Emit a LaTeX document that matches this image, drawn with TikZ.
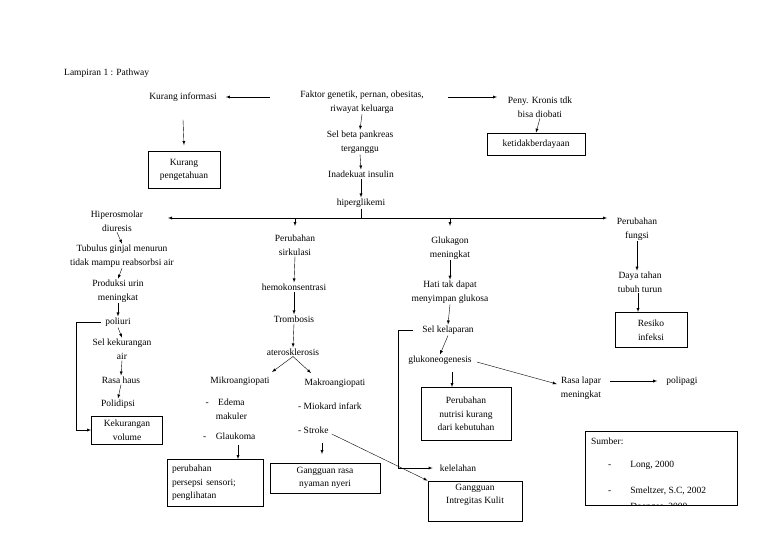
\documentclass[tikz,border=0pt]{standalone}
\usepackage{fontspec}
\setmainfont{Liberation Serif}
\usetikzlibrary{calc}
\tikzset{
  txt/.style={align=center,inner sep=1pt,font=\fontsize{9.5}{13.5}\selectfont},
  box/.style={txt,draw,thick,minimum width=#1},
  arr/.style={->,>=latex,thin}
}
\begin{document}
\begin{tikzpicture}[x=1pt,y=-1pt]
\useasboundingbox (0,0) rectangle (768,543);

% Title
\node[txt,anchor=west] (title) at (63,73) {Lampiran 1 : Pathway};

% Top row
\node[txt] (faktor) at (362,102) {Faktor genetik, pernan, obesitas,\\ riwayat keluarga};
\node[txt] (info) at (183,97) {Kurang informasi};
\node[txt] (kronis) at (540,107) {Peny. Kronis tdk\\ bisa diobati};
\node[box=98pt,minimum height=22pt] (daya) at (536,144) {ketidakberdayaan};
\node[box=72pt,minimum height=37pt] (tahu) at (184,170) {Kurang\\ pengetahuan};
\coordinate (fl) at (270,97);
\coordinate (fr) at (448,97);
\draw[arr] (fl) -- ($(info.east)+(8,0)$);
\draw[arr] (fr) -- (497,97);
\draw[arr] (kronis.south) -- (daya.north);
\draw[arr] ($(info.south)+(0,17)$) -- ($(tahu.north)+(0,-6)$);

% Centre column
\node[txt] (beta) at (360,142) {Sel beta pankreas\\ terganggu};
\node[txt] (insulin) at (361,174) {Inadekuat insulin};
\node[txt] (hiper) at (361,203) {hiperglikemi};
\draw[arr] (faktor.south) -- (beta.north);
\draw[arr] (beta.south) -- (insulin.north);
\draw[arr] (insulin.south) -- (hiper.north);
\coordinate (bl) at (168,218);
\coordinate (br) at (607,218);
\coordinate (bm) at (361,218);
\draw (hiper.south) -- (bm);
\draw[arr] (bm) -- (bl);
\draw[arr] (bm) -- (br);

% Left branch
\node[txt] (osmo) at (117,221) {Hiperosmolar\\ diuresis};
\node[txt] (tubulus) at (122,256) {Tubulus ginjal menurun\\ tidak mampu reabsorbsi air};
\node[txt] (urin) at (118,291) {Produksi urin\\ meningkat};
\node[txt] (poliuri) at (118,322) {poliuri};
\node[txt] (sel) at (122,349) {Sel kekurangan\\ air};
\node[txt] (haus) at (121,380) {Rasa haus};
\node[txt] (dipsi) at (118,404) {Polidipsi};
\node[box=71pt,minimum height=28pt] (volume) at (127,430) {Kekurangan\\ volume};
\draw[arr] (osmo.south) -- (tubulus.north);
\draw[arr] (tubulus.south) -- (urin.north);
\draw[arr] (urin.south) -- (poliuri.north);
\draw[arr] (poliuri.south) -- (sel.north);
\draw[arr] (sel.south) -- (haus.north);
\draw[arr] (haus.south) -- (dipsi.north);
\draw[arr] ($(poliuri.west)+(-3,0)$) -| (76,430) -- (volume.west);

% Circulation branch
\node[txt] (sirk) at (295,245) {Perubahan\\ sirkulasi};
\node[txt] (hemo) at (294,287) {hemokonsentrasi};
\node[txt] (trombo) at (294,319) {Trombosis};
\node[txt] (atero) at (293,352) {aterosklerosis};
\node[txt] (mikro) at (240,381) {Mikroangiopati};
\node[txt] (makro) at (335,383) {Makroangiopati};
\node[txt,anchor=west] (edema) at (202,409) {-\quad Edema\\ \phantom{-\quad }makuler};
\node[txt,anchor=west] (glauk) at (202,436) {-\quad Glaukoma};
\node[txt,anchor=west] (miokard) at (297,406) {- Miokard infark};
\node[txt,anchor=west] (stroke) at (297,430) {- Stroke};
\node[box=96pt,minimum height=47pt,align=left,text width=86pt] (sensori) at (215,483) {perubahan\\ persepsi sensori;\\ penglihatan};
\node[box=110pt,minimum height=30pt] (nyeri) at (325,478) {Gangguan rasa\\ nyaman nyeri};
\node[box=94pt,minimum height=40pt,text depth=14pt] (kulit) at (475,501) {Gangguan\\ Intregitas Kulit};
\coordinate (mid) at (bm -| sirk);
\draw[arr] (mid) -- ++(0,8);
\draw[arr] (sirk.south) -- (hemo.north);
\draw[arr] (hemo.south) -- (trombo.north);
\draw[arr] (trombo.south) -- (atero.north);
\draw[arr] (atero.south) -- (272,372);
\draw[arr] (atero.south) -- (311,373);
\draw[arr] (238,445) -- (sensori.north -| 238,0);
\draw[arr] (322,443) -- (322,454);
\draw[arr] ($(stroke.east)+(2,4)$) -- (kulit.north west);

% Glucagon branch
\node[txt] (gluk) at (450,248) {Glukagon\\ meningkat};
\node[txt] (hati) at (450,292) {Hati tak dapat\\ menyimpan glukosa};
\node[txt] (lapar) at (448,330) {Sel kelaparan};
\node[txt] (neo) at (440,360) {glukoneogenesis};
\node[box=90pt,minimum height=53pt] (nutri) at (466,414) {Perubahan\\ nutrisi kurang\\ dari kebutuhan};
\node[txt] (lelah) at (458,468) {kelelahan};
\node[txt] (rasalapar) at (581,388) {Rasa lapar\\ meningkat};
\node[txt] (poli) at (682,381) {polipagi};
\coordinate (mid2) at (bm -| gluk);
\draw[arr] (mid2) -- ++(0,8);
\draw[arr] (gluk.south) -- (hati.north);
\draw[arr] (hati.south) -- (lapar.north);
\draw[arr] (lapar.south) -- (neo.north);
\draw[arr] (452,372) -- (nutri.north -| 452,0);
\draw[arr] ($(lapar.west)+(-8,0)$) -- (398,330) |- ($(lelah.west)+(-6,0)$);
\draw[arr] ($(neo.east)+(4,2)$) -- ($(rasalapar.west)+(-3,-4)$);
\draw[arr] ($(rasalapar.east)+(8,-7)$) -- ($(poli.west)+(-8,0)$);

% Function branch
\node[txt] (fungsi) at (637,229) {Perubahan\\ fungsi};
\node[txt] (tubuh) at (640,282) {Daya tahan\\ tubuh turun};
\node[box=72pt,minimum height=35pt] (resiko) at (651,330) {Resiko\\ infeksi};
\draw[arr] (fungsi.south) -- (fungsi.south |- tubuh.north);
\draw[arr] (tubuh.south -| 638,0) -- (638,312);

% Sources
\node[draw,thick,minimum width=152pt,minimum height=74pt] (sumber) at (661,468) {};
\begin{scope}
\clip (sumber.north west) rectangle (sumber.south east);
\node[txt,anchor=west] (s0) at (590,441) {Sumber:};
\node[txt,anchor=west] (s1) at (607,465) {-\qquad Long, 2000};
\node[txt,anchor=west] (s2) at (607,491) {-\qquad Smeltzer, S.C, 2002};
\node[txt,anchor=west] (s3) at (607,507) {-\qquad Doenges, 2000};
\end{scope}
\end{tikzpicture}
\end{document}
